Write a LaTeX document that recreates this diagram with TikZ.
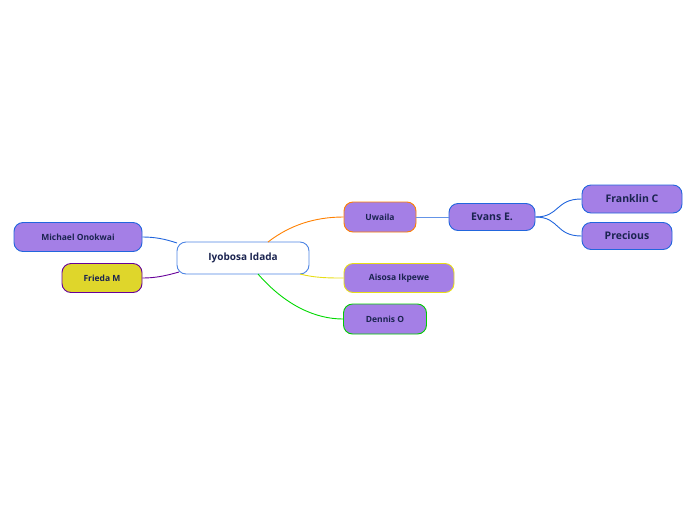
\documentclass[tikz,border=0pt]{standalone}
\usepackage{fontspec}
\setmainfont{Open Sans}
\begin{document}
\begin{tikzpicture}[x=1pt,y=-1pt,
 box/.style={draw,line width=0.9pt,rounded corners=9pt,fill=bubble,text=navy,font=\bfseries\fontsize{8.5}{10}\selectfont,anchor=center},
 big/.style={font=\bfseries\fontsize{10.5}{12}\selectfont},
 link/.style={line width=0.9pt}]
\definecolor{bubble}{HTML}{A47FE6}
\definecolor{navy}{HTML}{1B2450}
\definecolor{bl}{HTML}{2266DD}
\useasboundingbox (0,0) rectangle (696,520);
\node[box,fill=white,draw=bl!80,minimum width=132pt,minimum height=32pt,big,font=\fontsize{10}{12}\selectfont\bfseries] (c) at (243,258) {Iyobosa Idada};
\node[box,draw=bl,minimum width=128pt,minimum height=29pt] (m) at (78,237) {Michael Onokwai};
\node[box,draw=violet!80!blue,fill=yellow!85!black!95,minimum width=80pt,minimum height=29pt] (f) at (102,278) {Frieda M};
\node[box,draw=orange,minimum width=72pt,minimum height=30pt] (u) at (380,217) {Uwaila};
\node[box,draw=yellow!90!black,minimum width=110pt,minimum height=29pt] (a) at (399,278) {Aisosa Ikpewe};
\node[box,draw=green!80!black,minimum width=83pt,minimum height=30pt] (d) at (385,319) {Dennis O};
\node[box,draw=bl,minimum width=86pt,minimum height=27pt,big] (e) at (492,217) {Evans E.};
\node[box,draw=bl,minimum width=100pt,minimum height=28pt,big] (fr) at (632,199) {Franklin C};
\node[box,draw=bl,minimum width=90pt,minimum height=27pt,big] (p) at (627,236) {Precious};
\draw[link,orange] (268,242) .. controls (290,225) and (315,217) .. (u.west);
\draw[link,yellow!90!black] (300,274) .. controls (315,278) and (330,278) .. (a.west);
\draw[link,green!85!black] (258,274) .. controls (285,305) and (315,319) .. (d.west);
\draw[link,bl] (177,243) .. controls (165,239) and (155,237) .. (m.east);
\draw[link,violet!80!blue] (179,272) .. controls (165,276) and (155,278) .. (f.east);
\draw[link,bl!70] (u.east) -- (e.west);
\draw[link,bl] (e.east) .. controls (560,217) and (555,199) .. (fr.west);
\draw[link,bl] (e.east) .. controls (560,217) and (555,236) .. (p.west);
\end{tikzpicture}
\end{document}
